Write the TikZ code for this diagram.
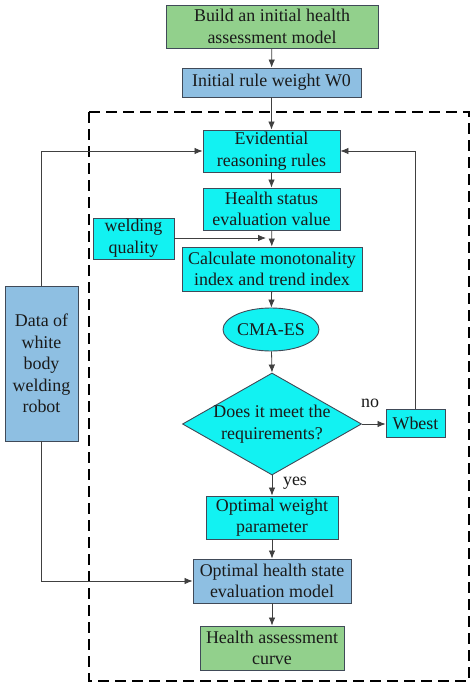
\documentclass[tikz,border=0pt]{standalone}
\usepackage{fontspec}
\setmainfont{Liberation Serif}
\usetikzlibrary{shapes.geometric,arrows.meta}
\definecolor{gbox}{HTML}{92D08C}
\definecolor{bbox}{HTML}{8EBFE2}
\definecolor{cbox}{HTML}{12F2F2}
\definecolor{edge}{HTML}{404A58}
\definecolor{txt}{HTML}{1A1A1A}
\tikzset{
  base/.style={draw=edge, line width=0.9bp, inner sep=0pt, align=center, text=txt, font=\fontsize{18}{21.7}\selectfont},
  gnode/.style={base, rectangle, fill=gbox},
  bnode/.style={base, rectangle, fill=bbox},
  cnode/.style={base, rectangle, fill=cbox},
  conn/.style={draw=black!75, line width=0.8bp, -{Latex[length=8bp,width=6.5bp]}},
  lbl/.style={inner sep=0pt, text=txt, font=\fontsize{18}{21.7}\selectfont}
}
\begin{document}
\begin{tikzpicture}[x=1bp,y=-1bp]
\useasboundingbox (0,0) rectangle (474,688);
\fill[white] (0,0) rectangle (474,688);
\draw[black, line width=2bp, dash pattern=on 11bp off 6bp] (89,112) rectangle (469,681);
\node[gnode, minimum width=212bp, minimum height=43bp] (build) at (272,26.5) {Build an initial health\\assessment model};
\node[bnode, minimum width=179bp, minimum height=29bp] (w0) at (271.5,82.5) {Initial rule weight W0};
\node[cnode, minimum width=137bp, minimum height=42bp] (erule) at (271.5,151) {Evidential\\reasoning rules};
\node[cnode, minimum width=137bp, minimum height=42bp] (hstat) at (271.5,209) {Health status\\evaluation value};
\node[cnode, minimum width=81bp, minimum height=41bp] (wq) at (133.5,238.5) {welding\\quality};
\node[cnode, minimum width=180bp, minimum height=44bp] (calc) at (272,269) {Calculate monotonality\\index and trend index};
\node[base, ellipse, fill=cbox, minimum width=96bp, minimum height=43bp] (cma) at (271,329.5) {CMA-ES};
\node[base, diamond, fill=cbox, minimum width=179bp, minimum height=102bp] (dia) at (272,424) {};
\node[lbl, align=center] (diat) at (272,424) {Does it meet the\\requirements?};
\node[cnode, minimum width=59bp, minimum height=28bp] (wbest) at (415.5,423) {Wbest};
\node[bnode, minimum width=73bp, minimum height=155bp] (data) at (41.5,363.5) {Data of\\white\\body\\welding\\robot};
\node[cnode, minimum width=132bp, minimum height=43bp] (optw) at (272,517.5) {Optimal weight\\parameter};
\node[bnode, minimum width=158bp, minimum height=44bp] (opth) at (272,581) {Optimal health state\\evaluation model};
\node[gnode, minimum width=144bp, minimum height=44bp] (curve) at (272,648) {Health assessment\\curve};
\node[lbl] (no) at (370,403) {no};
\node[lbl] (yes) at (295,483) {yes};
\coordinate (wqend) at (266,238);
\draw[conn] (build) -- (w0);
\draw[conn] (w0) -- (erule);
\draw[conn] (erule) -- (hstat);
\draw[conn] (hstat) -- (calc);
\draw[conn] (wq.east |- wqend) -- (wqend);
\draw[conn] (calc) -- (cma);
\draw[conn] (cma) -- (dia.north);
\draw[conn] (dia.south) -- (optw);
\draw[conn] (dia.east) -- (wbest.west |- dia.east);
\draw[conn] (wbest.north) |- (erule.east);
\draw[conn] (data.north) |- (erule.west);
\draw[conn] (data.south) |- (opth.west);
\draw[conn] (optw) -- (opth);
\draw[conn] (opth) -- (curve);
\end{tikzpicture}
\end{document}
